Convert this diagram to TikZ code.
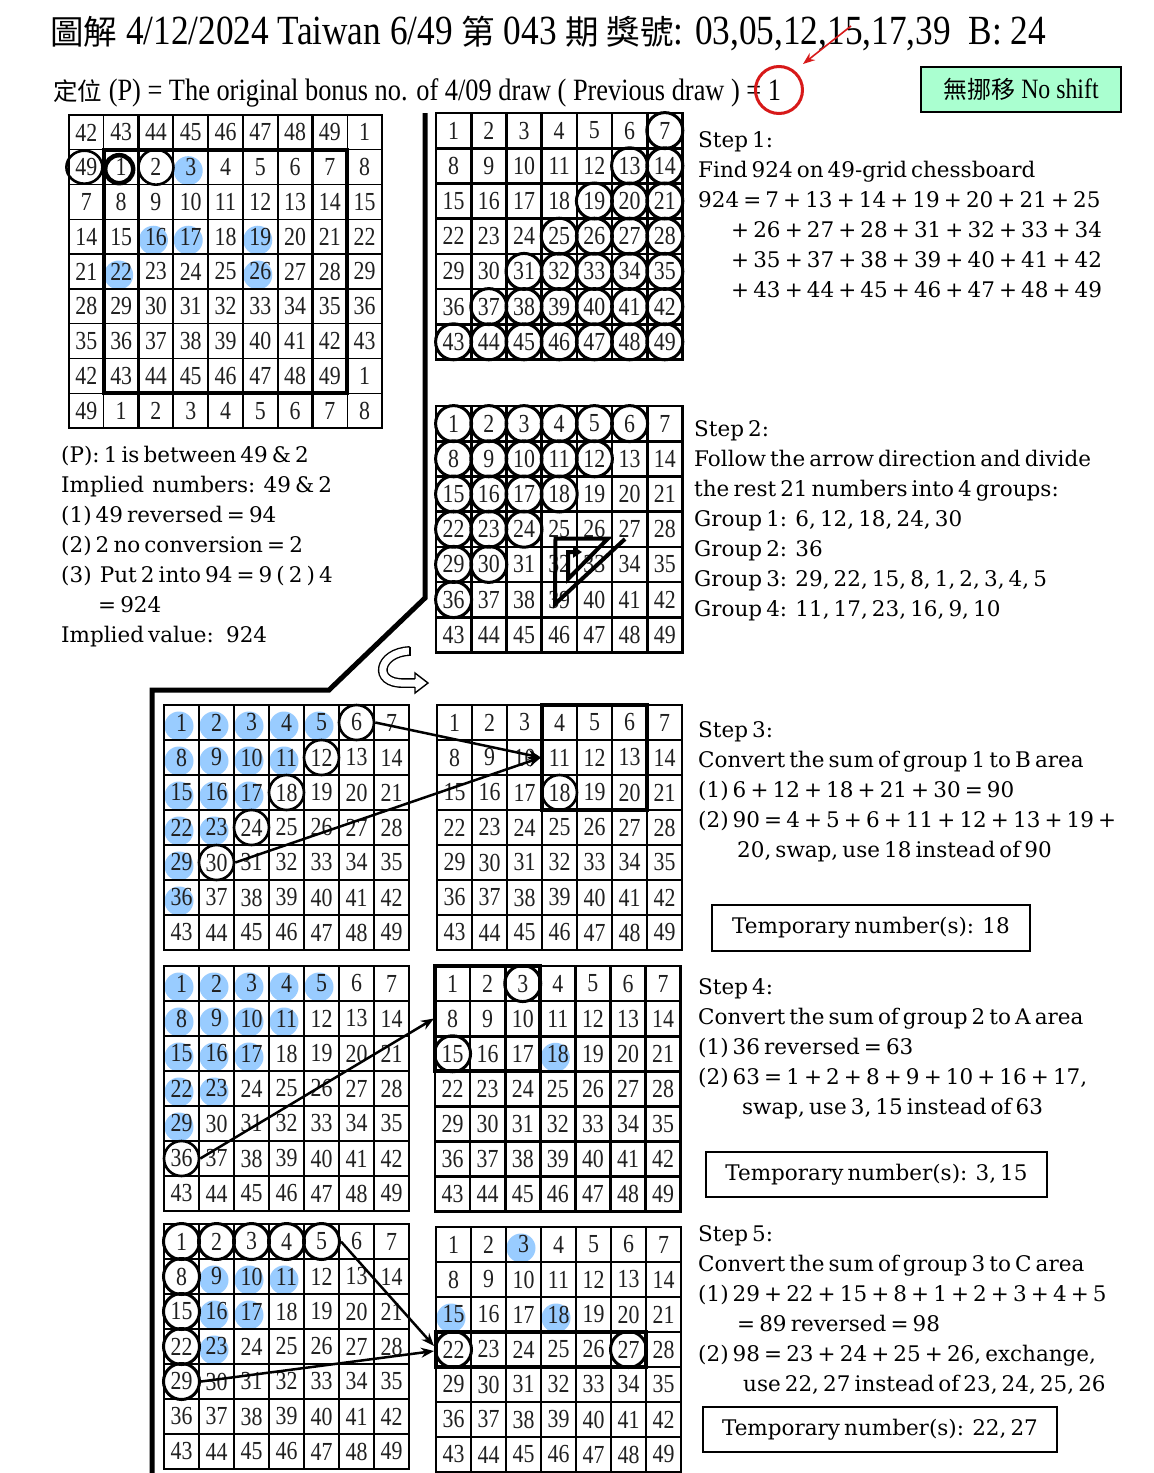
\documentclass[tikz,border=0pt]{standalone}
\usepackage{fontspec}
\setmainfont{DejaVu Serif}[WordSpace=0.6]
\newfontfamily\numfont[FakeStretch=0.84]{Liberation Serif}
\newfontfamily\condfont[FakeStretch=0.85]{Liberation Serif}
\newfontfamily\cjkfont{Noto Sans CJK TC}
\usetikzlibrary{arrows.meta,shapes.geometric}
\definecolor{bluefill}{RGB}{153,204,255}
\definecolor{mint}{RGB}{170,255,208}
\definecolor{redc}{RGB}{215,25,25}

\newcommand{\mkgrid}[5]{%
 \foreach \ri in {1,...,#5}{\foreach \ci in {1,...,#5}{%
   \pgfmathtruncatemacro{\idx}{(\ri-1)*#5+\ci}%
   \coordinate (#1-p\idx) at ({#2+(\ci-0.5)*#4},{#3+(\ri-0.5)*#4});
 }}}
\newcommand{\gridlines}[5]{%
 \foreach \i in {0,...,#4}{%
   \draw[line width=#5pt, line cap=rect] ({#1+\i*#3},#2) -- ({#1+\i*#3},{#2+#4*#3});
   \draw[line width=#5pt, line cap=rect] (#1,{#2+\i*#3}) -- ({#1+#4*#3},{#2+\i*#3});
 }}
\newcommand{\numsseven}[1]{%
 \foreach \kk in {1,...,49}{\node[num] (#1-n\kk) at (#1-p\kk) {\kk};}}
\newcommand{\bluedots}[2]{%
 \foreach \kk in {#2}{\fill[bluefill] ([shift={(-2.5,3.5)}]#1-p\kk) circle (14.5);}}
\newcommand{\rings}[3]{%
 \foreach \kk in {#3}{\node[#2] (#1-k\kk) at (#1-p\kk) {};}}

\begin{document}
\begin{tikzpicture}[x=1pt,y=-1pt,
  num/.style={inner sep=0pt, text=black!88, font=\numfont\fontsize{26}{26}\selectfont},
  body/.style={anchor=base west, inner sep=0pt, font=\fontsize{21.5}{30}\selectfont},
  ringA/.style={circle, draw=black, line width=2.6pt, minimum size=35pt, inner sep=0pt},
  ringB/.style={circle, draw=black, line width=3pt, minimum size=36pt, inner sep=0pt},
  hbox/.style={draw=black, line width=4pt},
  conn/.style={line width=2.5pt, -{Stealth[length=13pt,width=10pt]}},
  tempbox/.style={draw=black, line width=2pt, inner sep=0pt, font=\fontsize{21.5}{30}\selectfont},
  divider/.style={line width=5pt},
]
\fill[white] (0,0) rectangle (1154,1473);
\useasboundingbox (0,0) rectangle (1154,1473);

% ---------- header ----------
\node[anchor=base west, inner sep=0pt, font=\condfont\fontsize{41.5}{41.5}\selectfont] (title) at (50,44)
 {{\cjkfont\fontsize{33.5}{33.5}\selectfont 圖解} 4/12/2024 Taiwan 6/49 {\cjkfont\fontsize{33.5}{33.5}\selectfont 第} 043 {\cjkfont\fontsize{33.5}{33.5}\selectfont 期 獎號}: 03,05,12,15,17,39\ \ B: 24};
\node[anchor=base west, inner sep=0pt, font=\condfont\fontsize{31}{31}\selectfont] (line2) at (53,100)
 {{\cjkfont\fontsize{24.5}{24.5}\selectfont 定位} (P) = The original bonus no. of 4/09 draw ( Previous draw ) = 1};
\node[circle, draw=redc, line width=3pt, minimum size=47pt, inner sep=0pt] (rc) at (779,90) {};
\coordinate (rstart) at (851,26);
\coordinate (rtip) at (803,64);
\draw[redc, line width=1.6pt, -{Stealth[length=12pt,width=9pt]}] (rstart) -- (rtip);
\node[draw=black, line width=2pt, fill=mint, minimum width=200pt, minimum height=45pt, inner sep=0pt,
      font=\condfont\fontsize{28}{28}\selectfont] (noshift) at (1021,89.5)
 {{\cjkfont\fontsize{24}{24}\selectfont 無挪移} No shift};

% ---------- grid coordinates ----------
\mkgrid{G0}{69}{115}{34.78}{9}
\mkgrid{G1}{436}{113}{35.2}{7}
\mkgrid{G2}{436}{406}{35.2}{7}
\mkgrid{G3L}{164}{705}{35}{7}
\mkgrid{G3R}{437}{705}{35}{7}
\mkgrid{G4L}{164}{966}{35}{7}
\mkgrid{G4R}{435}{966}{35.1}{7}
\mkgrid{G5L}{164}{1224}{35}{7}
\mkgrid{G5R}{436}{1227}{35}{7}

% ---------- blue fills ----------
\bluedots{G0}{13,30,31,33,38,42}
\bluedots{G3L}{1,2,3,4,5,8,9,10,11,15,16,17,22,23,29,36}
\bluedots{G4L}{1,2,3,4,5,8,9,10,11,15,16,17,22,23,29}
\bluedots{G4R}{18}
\bluedots{G5L}{9,10,11,16,17,23}
\bluedots{G5R}{3,15,18}

% ---------- grid G0 (9x9) ----------
\foreach \i in {0,...,9}{%
  \pgfmathsetmacro{\lw}{(\i==2 || \i==3 || \i==6 || \i==7) ? 2.2 : 1.3}
  \draw[line width=\lw pt, line cap=rect] ({69+\i*34.78},115) -- ({69+\i*34.78},{115+9*34.78});
  \draw[line width=1.3pt, line cap=rect] (69,{115+\i*34.78}) -- ({69+9*34.78},{115+\i*34.78});
}
\foreach \ri in {1,...,9}{\foreach \ci in {1,...,9}{%
  \pgfmathtruncatemacro{\idx}{(\ri-1)*9+\ci}%
  \pgfmathtruncatemacro{\vv}{mod((\ri-2)*7+\ci-2+98,49)+1}%
  \node[num] (G0-n\idx) at (G0-p\idx) {\vv};
}}
\draw[hbox] (103.8,149.8) rectangle (347.4,393.4);
\node[ellipse, draw=black, line width=2.6pt, minimum width=36pt, minimum height=33pt, inner sep=0pt] (G0-k10) at ([shift={(-2,0)}]G0-p10) {};
\node[circle, draw=black, line width=4.5pt, minimum size=28pt, inner sep=0pt] (G0-k11) at ([shift={(-2,2)}]G0-p11) {};
\node[circle, draw=black, line width=2.6pt, minimum size=35pt, inner sep=0pt] (G0-k12) at (G0-p12) {};

% ---------- 7x7 grids ----------
\gridlines{436}{113}{35.2}{7}{2.6}
\gridlines{436}{406}{35.2}{7}{2.6}
\gridlines{164}{705}{35}{7}{1.5}
\gridlines{437}{705}{35}{7}{1.5}
\gridlines{164}{966}{35}{7}{1.5}
\gridlines{435}{966}{35.1}{7}{2.6}
\gridlines{164}{1224}{35}{7}{1.6}
\gridlines{436}{1227}{35}{7}{2.6}
\numsseven{G1}
\numsseven{G2}
\numsseven{G3L}
\numsseven{G3R}
\numsseven{G4L}
\numsseven{G4R}
\numsseven{G5L}
\numsseven{G5R}

% highlight boxes
\draw[hbox] (542,705) rectangle (647,810);
\draw[hbox] (435,966) rectangle (540.3,1071.3);
\draw[hbox] (436,1332) rectangle (646,1367);

% rings
\rings{G1}{ringB}{7,13,14,19,20,21,25,26,27,28,31,32,33,34,35,37,38,39,40,41,42,43,44,45,46,47,48,49}
\rings{G2}{ringB}{1,2,3,4,5,6,8,9,10,11,12,15,16,17,18,22,23,24,29,30,36}
\rings{G3L}{ringA}{6,12,18,24,30}
\rings{G3R}{ringA}{18}
\rings{G4L}{ringA}{36}
\rings{G4R}{ringB}{3,15}
\rings{G5L}{ringB}{1,2,3,4,5,8,15,22,29}
\rings{G5R}{ringB}{22,27}

% ---------- step 2 spiral arrow ----------
\draw[line width=4pt, line join=miter, -{Triangle[length=9pt,width=11pt]}]
  (625,539) -- (555,604) -- (555.5,538.5) -- (608,538.5) -- (568,579) -- (568,552) -- (582,552);

% ---------- divider ----------
\coordinate (d1) at (425,113);
\coordinate (d2) at (425,598);
\coordinate (d3) at (329,690);
\coordinate (d4) at (152,690);
\coordinate (d5) at (152,1476);
\draw[divider] (d1) -- (d2) -- (d3) -- (d4) -- (d5);

% ---------- U-turn icon ----------
\draw[line width=1.4pt, double=white, double distance=7pt]
  (410,651) .. controls (378,652) and (372,684) .. (404,683) -- (416,683);
\draw[line width=1.4pt] (410,646.5) -- (410,655.5);
\fill[white] (415,673) -- (428,683) -- (415,693) -- cycle;
\draw[line width=1.4pt, line join=miter] (415,678.8) -- (415,673) -- (428,683) -- (415,693) -- (415,687.2);

% ---------- connectors ----------
\coordinate (t3) at (541,757.5);
\draw[conn] (G3L-k6.east) -- (t3);
\draw[conn] (G3L-k30.east) -- (t3);
\coordinate (t4) at (434,1018.5);
\draw[conn] (G4L-k36.east) -- (t4);
\coordinate (t5a) at (434,1346);
\coordinate (t5b) at (434,1351);
\draw[conn] (G5L-k5.east) -- (t5a);
\draw[conn] (G5L-k29.east) -- (t5b);

% ---------- left text ----------
\node[body] (L1) at (61,462) {(P): 1 is between 49 \& 2};
\node[body] (L2) at (61,492) {Implied\ \ numbers:\ \ 49 \& 2};
\node[body] (L3) at (61,522) {(1) 49 reversed = 94};
\node[body] (L4) at (61,552) {(2) 2 no conversion = 2};
\node[body] (L5) at (61,582) {(3)\ \ Put 2 into 94 = 9 ( 2 ) 4};
\node[body] (L6) at (98,612) {= 924};
\node[body] (L7) at (61,642) {Implied value:\ \ \ 924};

% ---------- step 1 ----------
\node[body] (S1a) at (698,147) {Step 1:};
\node[body] (S1b) at (698,177) {Find 924 on 49-grid chessboard};
\node[body] (S1c) at (698,207) {924 = 7 + 13 + 14 + 19 + 20 + 21 + 25};
\node[body] (S1d) at (731,237) {+ 26 + 27 + 28 + 31 + 32 + 33 + 34};
\node[body] (S1e) at (731,267) {+ 35 + 37 + 38 + 39 + 40 + 41 + 42};
\node[body] (S1f) at (731,297) {+ 43 + 44 + 45 + 46 + 47 + 48 + 49};

% ---------- step 2 ----------
\node[body] (S2a) at (694,436) {Step 2:};
\node[body] (S2b) at (694,466) {Follow the arrow direction and divide};
\node[body] (S2c) at (694,496) {the rest 21 numbers into 4 groups:};
\node[body] (S2d) at (694,526) {Group 1:\ \ 6, 12, 18, 24, 30};
\node[body] (S2e) at (694,556) {Group 2:\ \ 36};
\node[body] (S2f) at (694,586) {Group 3:\ \ 29, 22, 15, 8, 1, 2, 3, 4, 5};
\node[body] (S2g) at (694,616) {Group 4:\ \ 11, 17, 23, 16, 9, 10};

% ---------- step 3 ----------
\node[body] (S3a) at (698,737) {Step 3:};
\node[body] (S3b) at (698,767) {Convert the sum of group 1 to B area};
\node[body] (S3c) at (698,797) {(1) 6 + 12 + 18 + 21 + 30 = 90};
\node[body] (S3d) at (698,827) {(2) 90 = 4 + 5 + 6 + 11 + 12 + 13 + 19 +};
\node[body] (S3e) at (737,857) {20, swap, use 18 instead of 90};
\node[tempbox, minimum width=318pt, minimum height=46pt] (T3) at (871,928) {Temporary number(s):\ \ 18};

% ---------- step 4 ----------
\node[body] (S4a) at (698,994) {Step 4:};
\node[body] (S4b) at (698,1024) {Convert the sum of group 2 to A area};
\node[body] (S4c) at (698,1054) {(1) 36 reversed = 63};
\node[body] (S4d) at (698,1084) {(2) 63 = 1 + 2 + 8 + 9 + 10 + 16 + 17,};
\node[body] (S4e) at (742,1114) {swap, use 3, 15 instead of 63};
\node[tempbox, minimum width=341pt, minimum height=45pt] (T4) at (876.5,1174.5) {Temporary number(s):\ \ 3, 15};

% ---------- step 5 ----------
\node[body] (S5a) at (698,1241) {Step 5:};
\node[body] (S5b) at (698,1271) {Convert the sum of group 3 to C area};
\node[body] (S5c) at (698,1301) {(1) 29 + 22 + 15 + 8 + 1 + 2 + 3 + 4 + 5};
\node[body] (S5d) at (737,1331) {= 89 reversed = 98};
\node[body] (S5e) at (698,1361) {(2) 98 = 23 + 24 + 25 + 26, exchange,};
\node[body] (S5f) at (743,1391) {use 22, 27 instead of 23, 24, 25, 26};
\node[tempbox, minimum width=354pt, minimum height=45pt] (T5) at (880,1429.5) {Temporary number(s):\ \ 22, 27};
\end{tikzpicture}
\end{document}
